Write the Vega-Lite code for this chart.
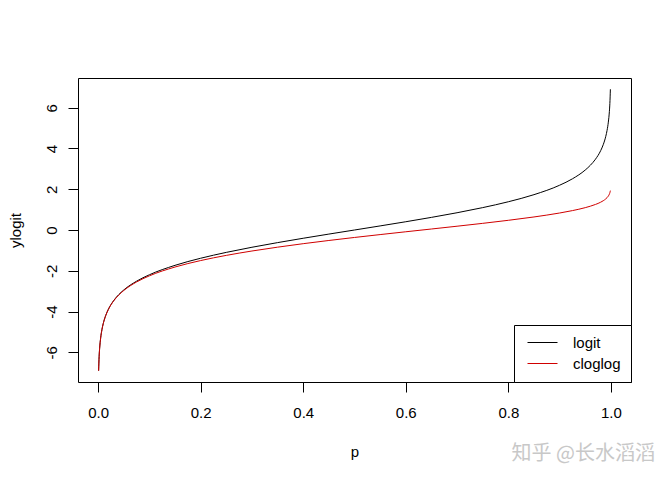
{
  "$schema": "https://vega.github.io/schema/vega-lite/v6.json",
  "width": 553,
  "height": 304,
  "autosize": {"type": "none"},
  "padding": {"left": 78, "top": 78, "right": 41, "bottom": 98},
  "background": "white",
  "config": {
    "font": "Liberation Sans",
    "view": {"stroke": "black", "strokeWidth": 1}
  },
  "title": {
    "text": "知乎 @长水滔滔",
    "orient": "bottom",
    "anchor": "end",
    "frame": "group",
    "font": "Noto Sans CJK SC",
    "fontSize": 20,
    "fontWeight": "normal",
    "color": "#c8c8c8",
    "offset": 0,
    "dx": 24,
    "dy": -15
  },
  "data": {
    "values": [
      {"p": 0.001, "logit": -6.9068, "cloglog": -6.9073},
      {"p": 0.002, "logit": -6.2126, "cloglog": -6.2136},
      {"p": 0.003, "logit": -5.8061, "cloglog": -5.8076},
      {"p": 0.005, "logit": -5.2933, "cloglog": -5.2958},
      {"p": 0.0075, "logit": -4.8853, "cloglog": -4.8891},
      {"p": 0.01, "logit": -4.5951, "cloglog": -4.6001},
      {"p": 0.015, "logit": -4.1846, "cloglog": -4.1922},
      {"p": 0.02, "logit": -3.8918, "cloglog": -3.9019},
      {"p": 0.03, "logit": -3.4761, "cloglog": -3.4914},
      {"p": 0.04, "logit": -3.1781, "cloglog": -3.1985},
      {"p": 0.05, "logit": -2.9444, "cloglog": -2.9702},
      {"p": 0.075, "logit": -2.5123, "cloglog": -2.5516},
      {"p": 0.1, "logit": -2.1972, "cloglog": -2.2504},
      {"p": 0.15, "logit": -1.7346, "cloglog": -1.817},
      {"p": 0.2, "logit": -1.3863, "cloglog": -1.4999},
      {"p": 0.25, "logit": -1.0986, "cloglog": -1.2459},
      {"p": 0.3, "logit": -0.8473, "cloglog": -1.0309},
      {"p": 0.35, "logit": -0.619, "cloglog": -0.8422},
      {"p": 0.4, "logit": -0.4055, "cloglog": -0.6717},
      {"p": 0.45, "logit": -0.2007, "cloglog": -0.5144},
      {"p": 0.5, "logit": 0, "cloglog": -0.3665},
      {"p": 0.55, "logit": 0.2007, "cloglog": -0.225},
      {"p": 0.6, "logit": 0.4055, "cloglog": -0.0874},
      {"p": 0.65, "logit": 0.619, "cloglog": 0.0486},
      {"p": 0.7, "logit": 0.8473, "cloglog": 0.1856},
      {"p": 0.75, "logit": 1.0986, "cloglog": 0.3266},
      {"p": 0.8, "logit": 1.3863, "cloglog": 0.4759},
      {"p": 0.85, "logit": 1.7346, "cloglog": 0.6403},
      {"p": 0.9, "logit": 2.1972, "cloglog": 0.834},
      {"p": 0.925, "logit": 2.5123, "cloglog": 0.9518},
      {"p": 0.95, "logit": 2.9444, "cloglog": 1.0972},
      {"p": 0.96, "logit": 3.1781, "cloglog": 1.169},
      {"p": 0.97, "logit": 3.4761, "cloglog": 1.2546},
      {"p": 0.98, "logit": 3.8918, "cloglog": 1.364},
      {"p": 0.985, "logit": 4.1846, "cloglog": 1.435},
      {"p": 0.99, "logit": 4.5951, "cloglog": 1.5272},
      {"p": 0.9925, "logit": 4.8853, "cloglog": 1.5878},
      {"p": 0.995, "logit": 5.2933, "cloglog": 1.6674},
      {"p": 0.997, "logit": 5.8061, "cloglog": 1.7594},
      {"p": 0.998, "logit": 6.2126, "cloglog": 1.8269},
      {"p": 0.999, "logit": 6.9068, "cloglog": 1.9326}
    ]
  },
  "transform": [
    {"fold": ["logit", "cloglog"], "as": ["link", "y"]}
  ],
  "mark": {"type": "line", "strokeWidth": 1, "interpolate": "monotone"},
  "encoding": {
    "x": {
      "field": "p",
      "type": "quantitative",
      "scale": {"domain": [-0.0392, 1.0392], "nice": false, "zero": false},
      "axis": {
        "title": "p",
        "values": [0, 0.2, 0.4, 0.6, 0.8, 1],
        "format": ".1f",
        "grid": false,
        "domain": false,
        "tickColor": "black",
        "tickSize": 10,
        "labelColor": "black",
        "labelFontSize": 15,
        "labelBaseline": "alphabetic",
        "labelPadding": 25,
        "titleColor": "black",
        "titleFontSize": 15,
        "titleFontWeight": "normal",
        "titleBaseline": "alphabetic",
        "titleY": 74
      }
    },
    "y": {
      "field": "y",
      "type": "quantitative",
      "scale": {"domain": [-7.46, 7.46], "nice": false, "zero": false},
      "axis": {
        "title": "ylogit",
        "values": [-6, -4, -2, 0, 2, 4, 6],
        "labelExpr": "datum.value < 0 ? '-' + abs(datum.value) : '' + datum.value",
        "grid": false,
        "domain": false,
        "tickColor": "black",
        "tickSize": 10,
        "labelColor": "black",
        "labelFontSize": 15,
        "labelAngle": -90,
        "labelAlign": "center",
        "labelBaseline": "alphabetic",
        "labelPadding": 12,
        "titleColor": "black",
        "titleFontSize": 15,
        "titleFontWeight": "normal",
        "titleBaseline": "middle",
        "titleX": -63
      }
    },
    "color": {
      "field": "link",
      "type": "nominal",
      "scale": {"domain": ["logit", "cloglog"], "range": ["black", "#d00000"]},
      "legend": {
        "title": null,
        "orient": "bottom-right",
        "offset": 0,
        "strokeColor": "black",
        "fillColor": "white",
        "padding": 10,
        "symbolType": "M-3,0H3",
        "symbolSize": 100,
        "symbolStrokeWidth": 1,
        "symbolOffset": 11,
        "labelFontSize": 15,
        "labelColor": "black",
        "labelOffset": 23,
        "rowPadding": 5
      }
    }
  }
}
